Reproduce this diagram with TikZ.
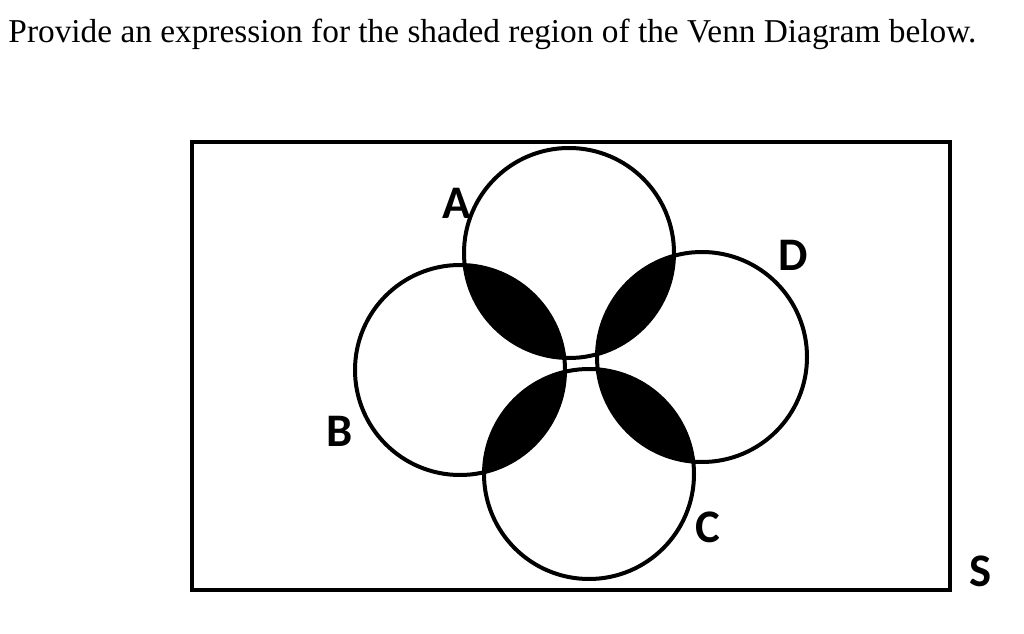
\documentclass[tikz,border=0pt]{standalone}
\usepackage{fontspec}
\setmainfont{Liberation Serif}
\newfontfamily\labelfont{Carlito}
\tikzset{every picture/.style={line width=0.75pt}}
\tikzset{setlabel/.style={inner sep=0pt, font=\labelfont\bfseries\fontsize{35}{35}\selectfont}}

\begin{document}
\begin{tikzpicture}[x=0.75pt,y=0.75pt,yscale=-1,xscale=1]
\useasboundingbox (0,0) rectangle (1024,634);

% Centres of the four sets
\coordinate (cA) at (569,253);
\coordinate (cB) at (460,370);
\coordinate (cC) at (589,474);
\coordinate (cD) at (702,357);

%Shaded: pairwise intersections
\begin{scope}
\clip (cA) circle [radius=105];
\fill (cB) circle [radius=105];
\fill (cD) circle [radius=105];
\end{scope}
\begin{scope}
\clip (cC) circle [radius=105];
\fill (cB) circle [radius=105];
\fill (cD) circle [radius=105];
\end{scope}

%Shape: Circles
\draw [line width=3pt] (cA) circle [radius=105];
\draw [line width=3pt] (cB) circle [radius=105];
\draw [line width=3pt] (cC) circle [radius=105];
\draw [line width=3pt] (cD) circle [radius=105];

%Shape: Rectangle (universal set)
\draw [line width=3.5pt] (192,142) -- (950,142) -- (950,590) -- (192,590) -- cycle ;

% Text Node
\node (title) [anchor=base west, inner sep=0pt, font=\fontsize{25}{25}\selectfont] at (8,43) {Provide an expression for the shaded region of the Venn Diagram below.};
% Text Node
\node (lA) [setlabel] at (457,203) {A};
\node (lB) [setlabel] at (340,431) {B};
\node (lC) [setlabel] at (708,527) {C};
\node (lD) [setlabel] at (793,255) {D};
\node (lS) [setlabel] at (981,571) {S};

\end{tikzpicture}
\end{document}
